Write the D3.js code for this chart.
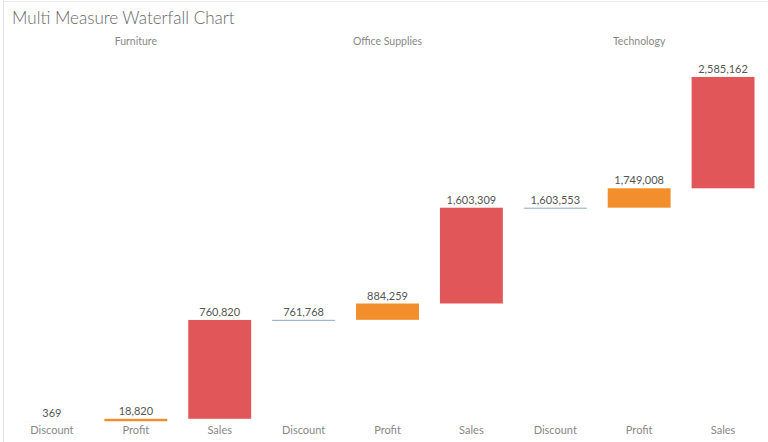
<!DOCTYPE html>
<html>
<head>
<meta charset="utf-8">
<script src="https://cdn.jsdelivr.net/npm/d3@7"></script>
<style>
  body { margin: 0; background: #fff; }
  svg { display: block; font-family: Lato, "Open Sans", sans-serif; }
</style>
</head>
<body>
<svg id="chart"></svg>
<script>
// chart values
const categories = ["Furniture", "Office Supplies", "Technology"];
const measures = ["Discount", "Profit", "Sales"];
const discount = [369, 948, 244];
const profit = [18451, 122491, 145455];
const sales = [742000, 719050, 836154];

const width = 768;
const height = 442;
const colors = { Discount: "#8aa6c8", Profit: "#f28e2b", Sales: "#e15759" };

// running total across all panels
let total = 0;
const rows = [];
categories.forEach((cat, i) => {
  const vals = { Discount: discount[i], Profit: profit[i], Sales: sales[i] };
  measures.forEach((m) => {
    const start = total;
    total += vals[m];
    rows.push({ key: cat + "|" + m, cat, measure: m, start, end: total });
  });
});

const svg = d3.select("#chart").attr("width", width).attr("height", height);

// faint frame lines like the dashboard edge
svg.append("line").attr("x1", 3.5).attr("x2", 3.5).attr("y1", 0).attr("y2", height)
  .attr("stroke", "#e6e6e6");
svg.append("line").attr("x1", 3.5).attr("x2", width).attr("y1", 1.5).attr("y2", 1.5)
  .attr("stroke", "#ececec");

svg.append("text")
  .attr("x", 12)
  .attr("y", 24)
  .attr("font-size", 17)
  .attr("font-weight", 300)
  .attr("fill", "#666")
  .text("Multi Measure Waterfall Chart");

const x = d3.scaleBand()
  .domain(rows.map((d) => d.key))
  .range([10, 765])
  .paddingInner(0.25)
  .paddingOuter(0.125);

const y = d3.scaleLinear()
  .domain([0, 2800000])
  .range([421.3, 48.3]);

// panel headers
svg.selectAll(".header")
  .data(categories)
  .enter()
  .append("text")
  .attr("class", "header")
  .attr("x", (c) => x(c + "|Profit") + x.bandwidth() / 2)
  .attr("y", 45)
  .attr("text-anchor", "middle")
  .attr("font-size", 10.5)
  .attr("fill", "#888")
  .text((c) => c);

// bars (tiny ones get a 1px sliver, except on the baseline)
svg.selectAll(".bar")
  .data(rows)
  .enter()
  .append("rect")
  .attr("class", "bar")
  .attr("x", (d) => x(d.key))
  .attr("width", x.bandwidth())
  .attr("y", (d) => y(d.end))
  .attr("height", (d) => {
    const h = y(d.start) - y(d.end);
    return d.start > 0 ? Math.max(1, h) : h;
  })
  .attr("fill", (d) => colors[d.measure]);

// running total labels
svg.selectAll(".value")
  .data(rows)
  .enter()
  .append("text")
  .attr("class", "value")
  .attr("x", (d) => x(d.key) + x.bandwidth() / 2)
  .attr("y", (d) => y(d.end) - 4)
  .attr("text-anchor", "middle")
  .attr("font-size", 11)
  .attr("fill", "#555")
  .text((d) => d3.format(",.0f")(d.end));

// bottom axis labels
const xAxis = d3.axisBottom(x).tickSize(0).tickFormat((k) => k.split("|")[1]);
const ax = svg.append("g")
  .attr("transform", "translate(0, 423)")
  .call(xAxis);
ax.select(".domain").remove();
ax.selectAll("text")
  .attr("font-size", 11)
  .attr("font-family", "Lato, 'Open Sans', sans-serif")
  .attr("fill", "#888");
</script>
</body>
</html>
